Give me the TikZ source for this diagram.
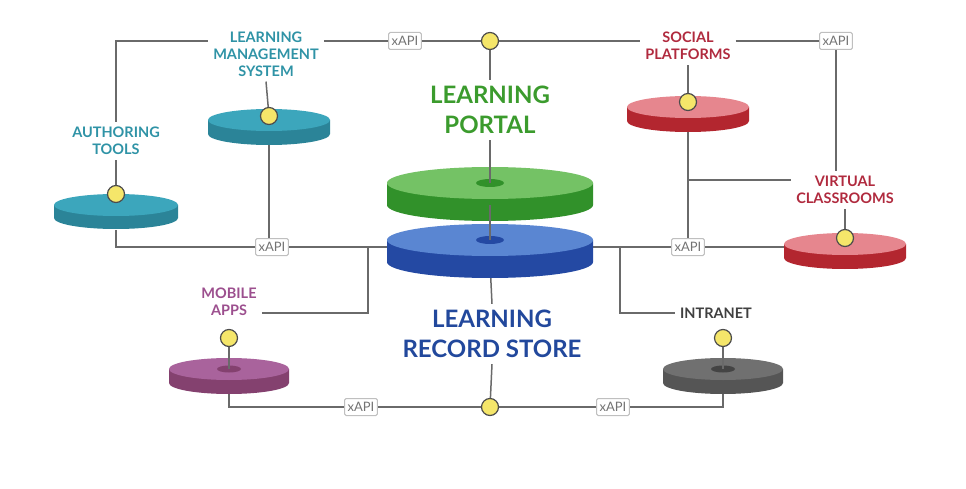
\documentclass[tikz,border=0pt]{standalone}
\usepackage{fontspec}
\setmainfont{Lato}
\usetikzlibrary{positioning}
\definecolor{wirecol}{HTML}{6A6A6A}
\definecolor{dotcol}{HTML}{F5E66A}
\definecolor{tealtop}{HTML}{3CA6BC}
\definecolor{tealside}{HTML}{2B8498}
\definecolor{tealtxt}{HTML}{2F93A6}
\definecolor{redtop}{HTML}{E6868E}
\definecolor{redside}{HTML}{B3262F}
\definecolor{redtxt}{HTML}{B02A3E}
\definecolor{purptop}{HTML}{A9639C}
\definecolor{purpside}{HTML}{84416F}
\definecolor{purptxt}{HTML}{9C4F8E}
\definecolor{greytop}{HTML}{707070}
\definecolor{greyside}{HTML}{555555}
\definecolor{greentop}{HTML}{74C265}
\definecolor{greenside}{HTML}{31912A}
\definecolor{greentxt}{HTML}{3B9B2D}
\definecolor{bluetop}{HTML}{5A86D2}
\definecolor{blueside}{HTML}{2449A3}
\definecolor{bluetxt}{HTML}{22489C}
\tikzset{
  wire/.style={draw=wirecol,line width=1.5pt},
  lab/.style={font=\bfseries\fontsize{14.5}{17}\selectfont,align=center,inner sep=5pt},
  big/.style={font=\bfseries\fontsize{24}{30}\selectfont,align=center,inner sep=6pt},
  api/.style={draw=black!25,fill=white,text=black!55,rounded corners=1.5pt,line width=1pt,
    font=\fontsize{13}{14}\selectfont,inner sep=3pt,minimum height=17pt},
  pin/.style={circle,draw=black!70,fill=dotcol,line width=1.2pt,minimum size=17pt,inner sep=0pt}
}
% disk: x, y (top centre), rx, ry, height, top colour, side colour
\newcommand{\disk}[7]{
  \fill[#7] (#1-#3,#2) -- (#1-#3,#2+#5) arc[start angle=180,end angle=360,x radius=#3,y radius=-#4] -- (#1+#3,#2) -- cycle;
  \fill[#6] (#1,#2) ellipse[x radius=#3,y radius=#4];
}
\begin{document}
\begin{tikzpicture}[x=1pt,y=-1pt]
  \useasboundingbox (0,0) rectangle (966,489);
  % labels
  \node[big,text=greentxt] (portal) at (490,110) {LEARNING\\PORTAL};
  \node[big,text=bluetxt] (lrs) at (492,334) {LEARNING\\RECORD STORE};
  \node[lab,text=tealtxt] (auth) at (116,141) {AUTHORING\\TOOLS};
  \node[lab,text=tealtxt] (lms) at (266,54) {LEARNING\\MANAGEMENT\\SYSTEM};
  \node[lab,text=redtxt] (social) at (688,46) {SOCIAL\\PLATFORMS};
  \node[lab,text=redtxt] (virt) at (845,190) {VIRTUAL\\CLASSROOMS};
  \node[lab,text=purptxt] (mob) at (229,302) {MOBILE\\APPS};
  \node[lab,text=black!75] (intra) at (716,313) {INTRANET};

  % wires
  \draw[wire] (auth.north) -- (116,41) -- (lms.west |- 0,41);
  \draw[wire] (lms.east |- 0,41) -- (social.west |- 0,41);
  \draw[wire] (social.east |- 0,41) -- (836,41) -- (virt.north -| 836,0);
  \draw[wire] (portal.north) -- (490,41);
  \draw[wire] (lrs.north) -- (490,262);
  \draw[wire] (lrs.south) -- (490,407);
  \draw[wire] (auth.south) -- (116,194);
  \draw[wire] (lms.south) -- (269,116);
  \draw[wire] (116,230) -- (116,247) -- (387,247);
  \draw[wire] (269,134) -- (269,247);
  \draw[wire] (mob.east |- 0,313) -- (368,313) -- (368,247);
  \draw[wire] (593,247) -- (785,247);
  \draw[wire] (social.south) -- (688,102);
  \draw[wire] (688,121) -- (688,247);
  \draw[wire] (688,180) -- (virt.west |- 0,180);
  \draw[wire] (virt.south) -- (845,238);
  \draw[wire] (620,247) -- (620,313) -- (intra.west);
  \draw[wire] (229,383) -- (229,407) -- (723,407) -- (723,383);

  % disks
  \disk{116}{205}{62}{11}{13}{tealtop}{tealside}
  \disk{269}{120}{61}{11}{14}{tealtop}{tealside}
  \disk{688}{107}{61}{11}{14}{redtop}{redside}
  \disk{845}{244}{61}{11}{14}{redtop}{redside}
  \disk{229}{369}{60}{11}{14}{purptop}{purpside}
  \disk{723}{369}{60}{11}{14}{greytop}{greyside}
  \disk{490}{183}{103}{16}{22}{greentop}{greenside}
  \fill[greenside] (490,183) ellipse[x radius=14,y radius=4];
  \draw[wire] (portal.south) -- (490,183);
  \disk{490}{240}{103}{16}{22}{bluetop}{blueside}
  \fill[blueside] (490,240) ellipse[x radius=14,y radius=4];
  \draw[wire] (490,205) -- (490,240);
  \fill[purpside] (229,369) ellipse[x radius=12,y radius=3.5];
  \fill[greyside!80!black] (723,369) ellipse[x radius=12,y radius=3.5];
  \draw[wire] (229,338) -- (229,369);
  \draw[wire] (723,338) -- (723,369);

  % xAPI tags
  \foreach \n/\x/\y in {a/405/41, b/836/41, c/272/247, d/688/247, e/361/407, f/613/407}
    \node[api] (api\n) at (\x,\y) {xAPI};

  % pins
  \foreach \n/\x/\y in {p/490/41, q/116/194, r/269/116, s/688/102, t/845/238, u/229/338, v/723/338, w/490/407}
    \node[pin] (pin\n) at (\x,\y) {};
\end{tikzpicture}
\end{document}
